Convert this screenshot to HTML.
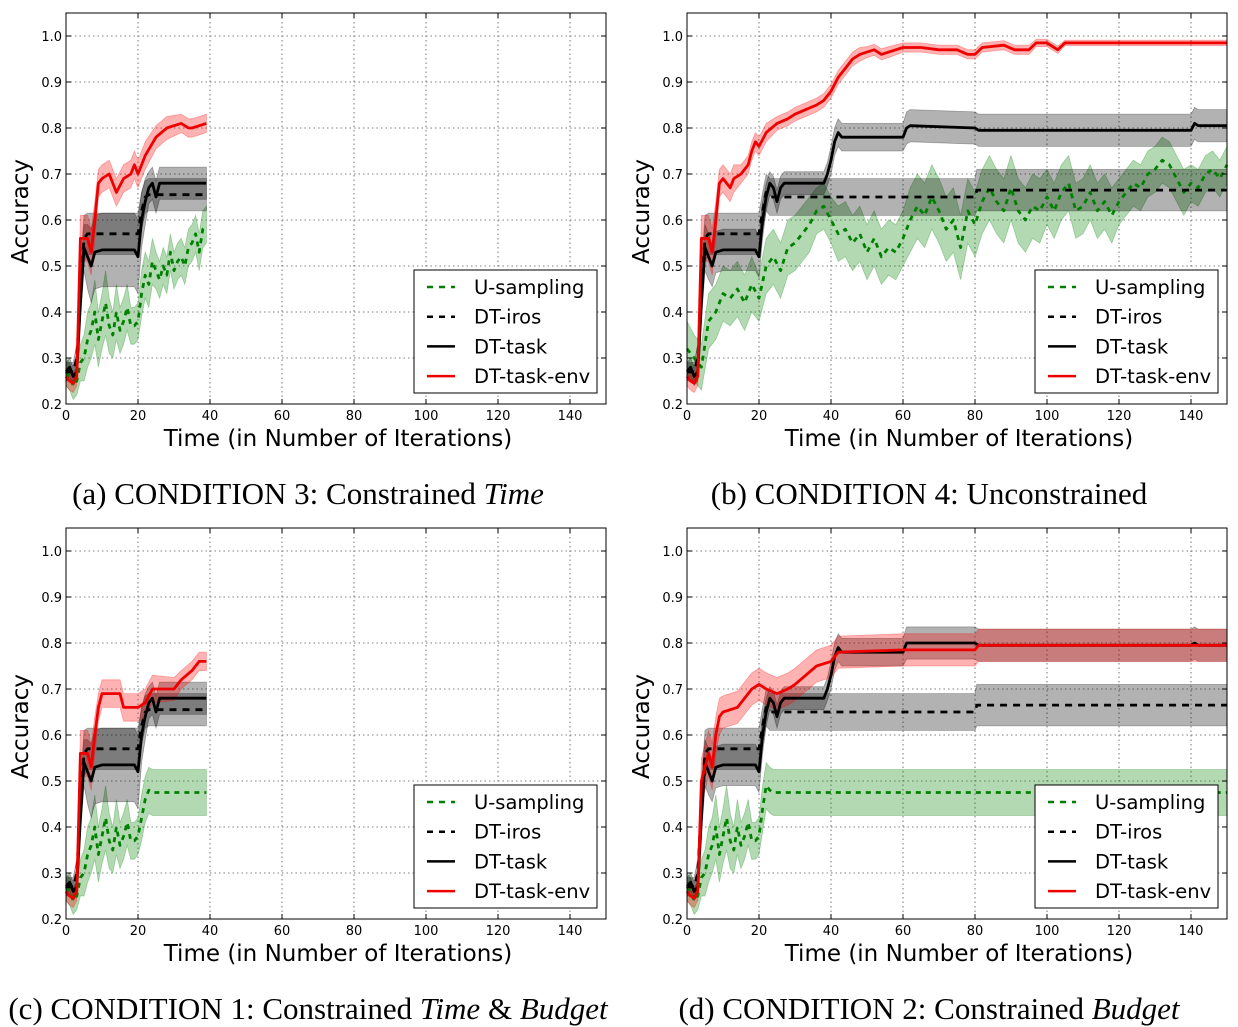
<!DOCTYPE html>
<html><head><meta charset="utf-8"><style>
html,body{margin:0;padding:0;background:#fff;}
svg{display:block;font-family:"DejaVu Sans","Liberation Sans",sans-serif;}
.cap{font-family:"Liberation Serif",serif;font-size:31px;}
</style></head><body>
<svg id="fig" width="1238" height="1027" viewBox="0 0 1238 1027" xmlns="http://www.w3.org/2000/svg"></svg>
<script>
// ---- shared tick labels ----
const xTicks = [0,20,40,60,80,100,120,140];
const yTicks = [0.2,0.3,0.4,0.5,0.6,0.7,0.8,0.9,1.0];
const legendLabels = ["U-sampling","DT-iros","DT-task","DT-task-env"];

// ---- Panel (a) ----
const aGreenX = [0,1,2,3,4,5,6,7,8,9,10,11,12,13,14,15,16,17,18,19,20,21,22,23,24,25,26,27,28,29,30,31,32,33,34,35,36,37,38,39];
const aGreenY = [0.27,0.26,0.24,0.25,0.29,0.30,0.34,0.36,0.40,0.34,0.38,0.42,0.37,0.35,0.40,0.36,0.38,0.41,0.37,0.37,0.38,0.44,0.48,0.46,0.51,0.49,0.47,0.50,0.48,0.53,0.49,0.51,0.52,0.50,0.54,0.55,0.57,0.53,0.58,0.59];
const aGreenB = [0.03,0.03,0.03,0.03,0.04,0.05,0.06,0.06,0.07,0.06,0.06,0.07,0.06,0.05,0.06,0.05,0.05,0.05,0.04,0.04,0.04,0.05,0.05,0.05,0.05,0.04,0.04,0.04,0.04,0.04,0.04,0.04,0.04,0.04,0.04,0.04,0.04,0.04,0.04,0.04];
const aIrosX = [0,2,3,4,5,6,20,21,22,23,39];
const aIrosY = [0.27,0.27,0.30,0.45,0.56,0.57,0.57,0.62,0.65,0.655,0.655];
const aIrosB = [0.02,0.02,0.03,0.05,0.05,0.045,0.045,0.04,0.035,0.035,0.035];
const aTaskX = [0,1,2,3,4,5,6,7,8,10,19,20,21,22,23,24,25,26,27,39];
const aTaskY = [0.27,0.28,0.26,0.27,0.42,0.54,0.52,0.50,0.53,0.535,0.535,0.52,0.60,0.64,0.67,0.68,0.65,0.68,0.68,0.68];
const aTaskB = [0.02,0.02,0.02,0.02,0.04,0.05,0.07,0.08,0.08,0.08,0.08,0.08,0.06,0.05,0.035,0.035,0.035,0.035,0.035,0.035];
const aEnvX = [0,1,2,3,4,6,7,8,9,10,12,14,16,18,19,20,22,25,28,32,34,35,39];
const aEnvY = [0.26,0.25,0.245,0.26,0.56,0.56,0.53,0.60,0.68,0.69,0.70,0.66,0.69,0.70,0.72,0.70,0.74,0.78,0.80,0.81,0.80,0.80,0.81];
const aEnvB = [0.02,0.02,0.02,0.02,0.05,0.05,0.05,0.04,0.03,0.03,0.03,0.03,0.03,0.03,0.03,0.03,0.03,0.025,0.025,0.02,0.02,0.02,0.02];

// ---- Panel (b) ----
const bGreenX = [0,2,4,6,8,10,12,14,16,18,20,22,24,26,28,30,32,34,36,38,40,42,44,46,48,50,52,54,56,58,60,62,64,66,68,70,72,74,76,78,80,82,84,86,88,90,92,94,96,98,100,102,104,106,108,110,112,114,116,118,120,122,124,126,128,130,132,134,136,138,140,142,144,146,148,150];
const bGreenY = [0.32,0.30,0.28,0.38,0.40,0.44,0.43,0.45,0.42,0.46,0.43,0.50,0.52,0.49,0.54,0.55,0.57,0.59,0.62,0.63,0.60,0.57,0.58,0.55,0.57,0.53,0.56,0.52,0.54,0.53,0.56,0.60,0.63,0.61,0.65,0.62,0.58,0.60,0.54,0.62,0.59,0.64,0.67,0.64,0.62,0.67,0.62,0.60,0.63,0.62,0.65,0.62,0.66,0.68,0.62,0.63,0.66,0.62,0.64,0.61,0.64,0.66,0.68,0.67,0.70,0.71,0.73,0.72,0.69,0.66,0.68,0.67,0.70,0.71,0.69,0.72];
const bGreenB = [0.06,0.05,0.05,0.06,0.06,0.06,0.06,0.06,0.06,0.06,0.05,0.06,0.06,0.06,0.06,0.06,0.06,0.06,0.05,0.05,0.05,0.06,0.06,0.06,0.06,0.06,0.06,0.06,0.06,0.06,0.06,0.07,0.07,0.07,0.07,0.07,0.07,0.07,0.07,0.07,0.07,0.07,0.07,0.07,0.07,0.07,0.07,0.07,0.07,0.07,0.06,0.06,0.06,0.06,0.06,0.06,0.06,0.06,0.06,0.06,0.05,0.05,0.05,0.05,0.05,0.05,0.05,0.05,0.05,0.05,0.04,0.04,0.04,0.04,0.04,0.04];
const bIrosX = [0,2,3,4,5,6,20,21,22,23,80,80.5,150];
const bIrosY = [0.27,0.27,0.30,0.45,0.56,0.57,0.57,0.62,0.66,0.65,0.65,0.665,0.665];
const bIrosB = [0.02,0.02,0.03,0.05,0.05,0.045,0.045,0.04,0.04,0.04,0.04,0.045,0.045];
const bTaskX = [0,1,2,3,4,5,6,7,8,10,19,20,21,22,23,24,25,26,27,38,39,40,41,42,43,60,61,62,80,81,140,141,142,150];
const bTaskY = [0.27,0.28,0.26,0.27,0.42,0.54,0.52,0.50,0.53,0.535,0.535,0.52,0.60,0.65,0.68,0.67,0.64,0.67,0.68,0.68,0.70,0.73,0.77,0.79,0.78,0.78,0.80,0.805,0.80,0.795,0.795,0.81,0.805,0.805];
const bTaskB = [0.02,0.02,0.02,0.02,0.04,0.05,0.05,0.045,0.045,0.045,0.045,0.045,0.04,0.03,0.025,0.025,0.025,0.025,0.025,0.025,0.025,0.03,0.03,0.03,0.03,0.03,0.035,0.035,0.035,0.035,0.035,0.035,0.035,0.035];
const bEnvX = [0,1,2,3,4,6,7,8,9,10,12,13,15,17,18,19,20,22,25,28,30,33,36,38,40,42,44,46,48,50,52,54,56,60,65,70,75,78,80,82,88,91,95,97,100,103,105,150];
const bEnvY = [0.26,0.25,0.245,0.26,0.56,0.56,0.53,0.60,0.68,0.69,0.67,0.69,0.70,0.72,0.75,0.77,0.76,0.79,0.81,0.82,0.83,0.84,0.85,0.86,0.88,0.91,0.93,0.95,0.96,0.965,0.97,0.96,0.965,0.975,0.975,0.97,0.97,0.96,0.96,0.975,0.98,0.97,0.97,0.985,0.985,0.97,0.985,0.985];
const bEnvB = [0.02,0.02,0.02,0.02,0.05,0.05,0.05,0.04,0.03,0.03,0.03,0.03,0.02,0.02,0.02,0.02,0.02,0.02,0.015,0.015,0.015,0.015,0.015,0.015,0.015,0.015,0.015,0.015,0.015,0.012,0.012,0.012,0.012,0.01,0.01,0.01,0.01,0.01,0.01,0.01,0.01,0.01,0.01,0.008,0.008,0.008,0.006,0.006];

// ---- Panel (c) ----
const cGreenX = [0,1,2,3,4,5,6,7,8,9,10,11,12,13,14,15,16,17,18,19,20,21,22,23,24,39];
const cGreenY = [0.27,0.26,0.24,0.25,0.29,0.30,0.34,0.36,0.40,0.34,0.38,0.42,0.37,0.35,0.40,0.36,0.38,0.41,0.37,0.37,0.38,0.42,0.46,0.48,0.475,0.475];
const cGreenB = [0.03,0.03,0.03,0.03,0.04,0.05,0.06,0.06,0.07,0.06,0.06,0.07,0.06,0.05,0.06,0.05,0.05,0.05,0.04,0.04,0.04,0.05,0.05,0.05,0.05,0.05];
const cIrosX = aIrosX, cIrosY = aIrosY, cIrosB = aIrosB;
const cTaskX = aTaskX, cTaskY = aTaskY, cTaskB = aTaskB;
const cEnvX = [0,1,2,3,4,6,7,8,9,10,15,16,20,22,24,30,32,35,37,39];
const cEnvY = [0.26,0.25,0.245,0.26,0.56,0.56,0.53,0.60,0.66,0.69,0.69,0.66,0.66,0.67,0.70,0.70,0.72,0.74,0.76,0.76];
const cEnvB = [0.02,0.02,0.02,0.02,0.05,0.05,0.05,0.04,0.03,0.03,0.03,0.03,0.03,0.03,0.03,0.025,0.02,0.02,0.02,0.02];

// ---- Panel (d) ----
const dGreenX = [0,1,2,3,4,5,6,7,8,9,10,11,12,13,14,15,16,17,18,19,20,21,22,23,24,150];
const dGreenY = [0.27,0.26,0.24,0.25,0.29,0.30,0.34,0.36,0.40,0.34,0.38,0.42,0.37,0.35,0.40,0.36,0.38,0.41,0.37,0.37,0.38,0.44,0.49,0.48,0.475,0.475];
const dGreenB = [0.03,0.03,0.03,0.03,0.04,0.05,0.06,0.06,0.07,0.06,0.06,0.07,0.06,0.05,0.06,0.05,0.05,0.05,0.04,0.04,0.04,0.05,0.05,0.05,0.05,0.05];
const dIrosX = bIrosX, dIrosY = bIrosY, dIrosB = bIrosB;
const dTaskX = [0,1,2,3,4,5,6,7,8,10,19,20,21,22,23,24,25,26,27,38,39,40,41,42,43,60,61,62,80,81,140,141,142,150];
const dTaskY = [0.27,0.28,0.26,0.27,0.42,0.54,0.52,0.50,0.53,0.535,0.535,0.52,0.60,0.65,0.68,0.67,0.64,0.67,0.68,0.68,0.70,0.73,0.77,0.79,0.78,0.78,0.80,0.80,0.80,0.795,0.795,0.80,0.795,0.795];
const dTaskB = bTaskB;
const dEnvX = [0,1,2,3,4,6,7,8,9,10,14,16,18,20,22,25,28,30,33,36,40,42,60,80,81,150];
const dEnvY = [0.26,0.25,0.245,0.26,0.50,0.56,0.53,0.60,0.64,0.65,0.66,0.68,0.70,0.71,0.70,0.69,0.70,0.71,0.73,0.75,0.76,0.78,0.785,0.785,0.795,0.795];
const dEnvB = [0.02,0.02,0.02,0.02,0.05,0.05,0.05,0.04,0.04,0.035,0.035,0.035,0.035,0.035,0.035,0.035,0.035,0.035,0.035,0.035,0.035,0.035,0.035,0.035,0.035,0.035];

const panels = [
  {id:"a", left:66, top:13, cap:["(a) CONDITION 3: Constrained ",["Time",true]], capX:308, capY:504,
   green:[aGreenX,aGreenY,aGreenB], iros:[aIrosX,aIrosY,aIrosB], task:[aTaskX,aTaskY,aTaskB], env:[aEnvX,aEnvY,aEnvB]},
  {id:"b", left:687, top:13, cap:["(b) CONDITION 4: Unconstrained"], capX:929, capY:504,
   green:[bGreenX,bGreenY,bGreenB], iros:[bIrosX,bIrosY,bIrosB], task:[bTaskX,bTaskY,bTaskB], env:[bEnvX,bEnvY,bEnvB]},
  {id:"c", left:66, top:528, cap:["(c) CONDITION 1: Constrained ",["Time",true]," & ",["Budget",true]], capX:308, capY:1019,
   green:[cGreenX,cGreenY,cGreenB], iros:[cIrosX,cIrosY,cIrosB], task:[cTaskX,cTaskY,cTaskB], env:[cEnvX,cEnvY,cEnvB]},
  {id:"d", left:687, top:528, cap:["(d) CONDITION 2: Constrained ",["Budget",true]], capX:929, capY:1019,
   green:[dGreenX,dGreenY,dGreenB], iros:[dIrosX,dIrosY,dIrosB], task:[dTaskX,dTaskY,dTaskB], env:[dEnvX,dEnvY,dEnvB]}
];

const NS = "http://www.w3.org/2000/svg";
const svg = document.getElementById("fig");
function mk(tag, attrs, parent){ const e=document.createElementNS(NS,tag); for(const k in attrs) e.setAttribute(k,attrs[k]); (parent||svg).appendChild(e); return e; }
const W=540, H=391;

panels.forEach(p=>{
  const g = mk("g",{});
  
  
  const sx = x => p.left + x/150*W;
  const sy = y => p.top + (1.05 - y)/0.85*H;
  xTicks.forEach(t=>{ if(t>0){ const l=mk("line",{x1:sx(t),x2:sx(t),y1:p.top,y2:p.top+H,stroke:"#555","stroke-width":0.8,"stroke-dasharray":"1.5,3"},g);
      }});
  yTicks.forEach(t=>{ if(t>0.2){ const l=mk("line",{x1:p.left,x2:p.left+W,y1:sy(t),y2:sy(t),stroke:"#555","stroke-width":0.8,"stroke-dasharray":"1.5,3"},g);
      }});
  const defs = [
    ["green", "#008000", "rgba(0,128,0,0.3)", "5,5", 2.8, "u-sampling"],
    ["iros", "#000", "rgba(0,0,0,0.3)", "7,6", 2.8, "dt-iros"],
    ["task", "#000", "rgba(0,0,0,0.3)", "", 2.8, "dt-task"],
    ["env", "#e00", "rgba(255,0,0,0.3)", "", 2.8, "dt-task-env"]
  ];
  defs.forEach(d=>{
    const [xs,ys,bs] = p[d[0]];
    let up = xs.map((x,i)=>sx(x)+","+sy(ys[i]+bs[i]));
    let dn = xs.map((x,i)=>sx(x)+","+sy(ys[i]-bs[i])).reverse();
    const band = mk("polygon",{points:up.concat(dn).join(" "),fill:d[2],stroke:d[2],"stroke-width":0.8},g);
    
    
  });
  defs.forEach(d=>{
    const [xs,ys] = p[d[0]];
    const pl = mk("polyline",{points:xs.map((x,i)=>sx(x)+","+sy(ys[i])).join(" "),fill:"none",stroke:d[1],"stroke-width":d[4],"stroke-dasharray":d[3],"stroke-linejoin":"round"},g);
    
    
  });
  const fr = mk("rect",{x:p.left,y:p.top,width:W,height:H,fill:"none",stroke:"#000","stroke-width":1},g);
   
  xTicks.forEach(t=>{
    mk("line",{x1:sx(t),x2:sx(t),y1:p.top+H,y2:p.top+H-5,stroke:"#000"},g);
    mk("line",{x1:sx(t),x2:sx(t),y1:p.top,y2:p.top+5,stroke:"#000"},g);
    const tx = mk("text",{x:sx(t),y:p.top+H+16,"font-size":13,"text-anchor":"middle"},g);
    tx.textContent = t;
     
  });
  yTicks.forEach(t=>{
    mk("line",{x1:p.left,x2:p.left+5,y1:sy(t),y2:sy(t),stroke:"#000"},g);
    mk("line",{x1:p.left+W,x2:p.left+W-5,y1:sy(t),y2:sy(t),stroke:"#000"},g);
    const ty = mk("text",{x:p.left-4,y:sy(t)+5,"font-size":13,"text-anchor":"end"},g);
    ty.textContent = t.toFixed(1);
     
  });
  const xt = mk("text",{x:p.left+W/2+2,y:p.top+H+42,"font-size":23,"text-anchor":"middle"},g);
  xt.textContent = "Time (in Number of Iterations)";
   
  const yt = mk("text",{x:0,y:0,"font-size":23,"text-anchor":"middle",transform:`translate(${p.left-38},${p.top+H/2+3}) rotate(-90)`},g);
  yt.textContent = "Accuracy";
   
  const lg = mk("g",{},g);
   
  const lx = p.left+348, ly = p.top+257;
  mk("rect",{x:lx,y:ly,width:183,height:123,fill:"#fff",stroke:"#000","stroke-width":1},lg);
  defs.forEach((d,i)=>{
    const yy = ly+17+i*29.7;
    const ll = mk("line",{x1:lx+13,x2:lx+41,y1:yy,y2:yy,stroke:d[1],"stroke-width":2.5,"stroke-dasharray":i<2?"6,6":""},lg);
     
    const lt = mk("text",{x:lx+60,y:yy+7,"font-size":19.5},lg);
    lt.textContent = legendLabels[i];
     
  });
  const cap = mk("text",{x:p.capX,y:p.capY,"text-anchor":"middle",class:"cap"},g);
   
  p.cap.forEach(part=>{
    const ts = mk("tspan",{},cap);
    if(Array.isArray(part)){ ts.textContent=part[0]; ts.setAttribute("font-style","italic"); } else ts.textContent=part;
  });
});
</script>
</body></html>
